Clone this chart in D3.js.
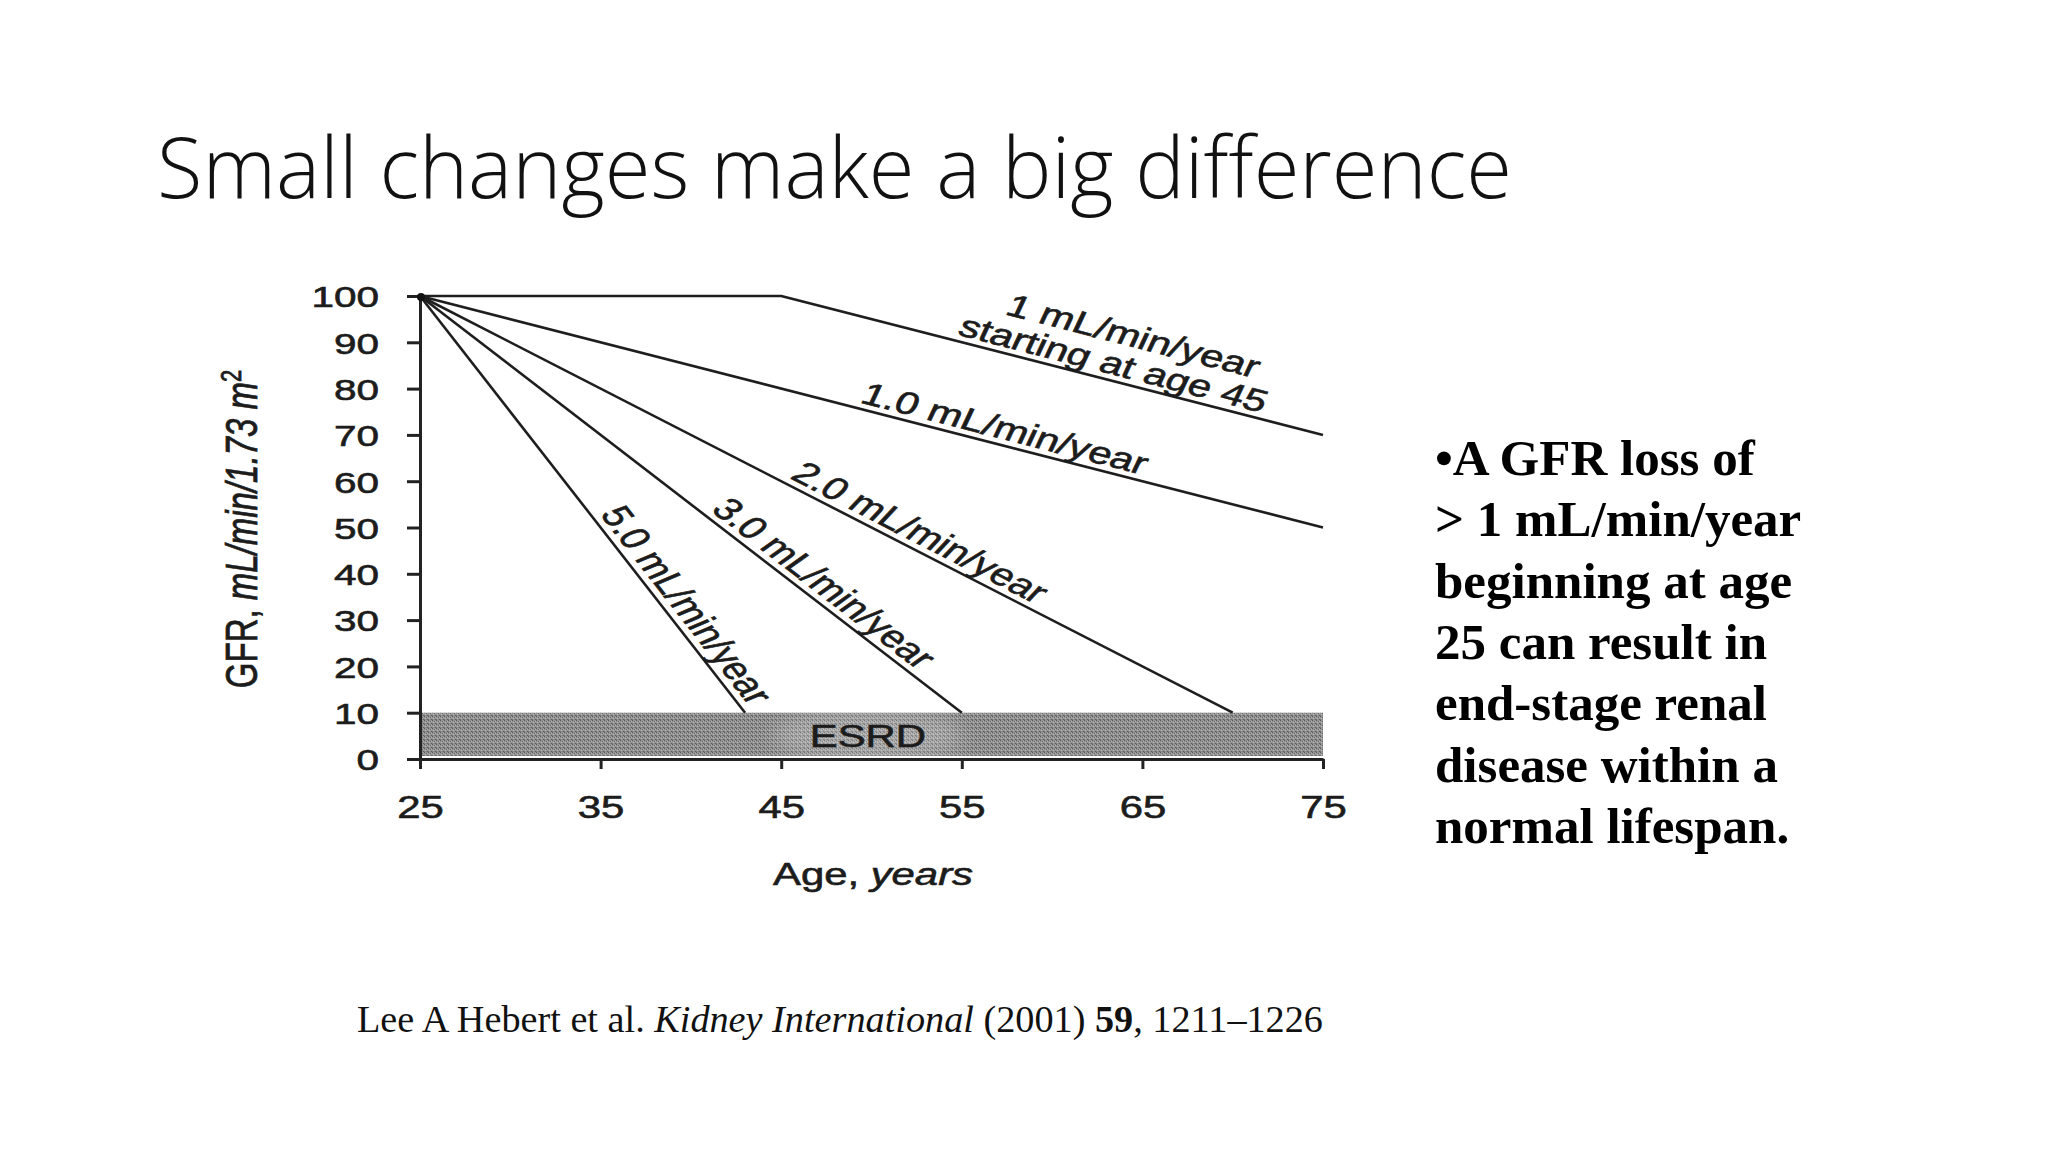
<!DOCTYPE html>
<html>
<head>
<meta charset="utf-8">
<script src="https://cdn.jsdelivr.net/npm/d3@7"></script>
<style>
  body { margin: 0; background: #fff; }
  svg { display: block; }
  .chart text { fill: #1c1c1c; stroke: #1c1c1c; stroke-width: 0.6px; font-family: "Liberation Sans", Arial, sans-serif; }
</style>
</head>
<body>
<script>
// chart values
var xTicks = [25, 35, 45, 55, 65, 75];
var yTicks = [0, 10, 20, 30, 40, 50, 60, 70, 80, 90, 100];

var seriesAges = [[25, 45, 75], [25, 75], [25, 70], [25, 55], [25, 43]];
var seriesGfr  = [[100, 100, 70], [100, 50], [100, 10], [100, 10], [100, 10]];
var seriesLabels = [
  ["1 mL/min/year", "starting at age 45"],
  ["1.0 mL/min/year"],
  ["2.0 mL/min/year"],
  ["3.0 mL/min/year"],
  ["5.0 mL/min/year"]
];
var labelAges = [63, 57, 52, 46.5, 38.7];

var esrdRange = [0, 10];
var esrdAges = [25, 75];

var bulletLines = ["\u2022A GFR loss of", "> 1 mL/min/year", "beginning at age",
  "25 can result in", "end-stage renal", "disease within a", "normal lifespan."];

var width = 2048, height = 1152;
var sx = 1.35; // the figure in the slide is stretched sideways

var svg = d3.select("body").append("svg")
    .attr("width", width)
    .attr("height", height);

svg.append("rect").attr("width", width).attr("height", height).attr("fill", "#fff");

// title
svg.append("text")
    .attr("x", 157).attr("y", 198)
    .attr("textLength", 1355)
    .attr("lengthAdjust", "spacingAndGlyphs")
    .style("font-family", "'Open Sans', 'Noto Sans', sans-serif")
    .style("font-weight", 300)
    .style("font-size", "84px")
    .style("fill", "#111")
    .text("Small changes make a big difference");

var x = d3.scaleLinear().domain([25, 75]).range([420, 1323]);
var y = d3.scaleLinear().domain([0, 100]).range([759, 296]);

var g = svg.append("g").attr("class", "chart");

// stipple pattern for the ESRD band
var defs = svg.append("defs");
var pat = defs.append("pattern")
    .attr("id", "stip").attr("width", 4).attr("height", 4)
    .attr("patternUnits", "userSpaceOnUse");
pat.append("rect").attr("width", 4).attr("height", 4).attr("fill", "#959595");
[[0, 0, "#5a5a5a"], [2, 1, "#686868"], [1, 2, "#b8b8b8"], [3, 3, "#606060"], [3, 1, "#adadad"], [0, 3, "#767676"], [2, 3, "#868686"]]
  .forEach(function(d) {
    pat.append("rect").attr("x", d[0]).attr("y", d[1]).attr("width", 1).attr("height", 1).attr("fill", d[2]);
  });
defs.append("filter").attr("id", "blur").append("feGaussianBlur").attr("stdDeviation", 10);
defs.append("clipPath").attr("id", "bandclip").append("rect")
    .attr("x", x(esrdAges[0]) + 2).attr("y", y(esrdRange[1]))
    .attr("width", x(esrdAges[1]) - x(esrdAges[0]) - 2)
    .attr("height", y(esrdRange[0]) - y(esrdRange[1]) - 3);

g.append("rect")
    .attr("x", x(esrdAges[0]) + 2)
    .attr("y", y(esrdRange[1]))
    .attr("width", x(esrdAges[1]) - x(esrdAges[0]) - 2)
    .attr("height", y(esrdRange[0]) - y(esrdRange[1]) - 3)
    .attr("fill", "url(#stip)");

// lighter halo round the ESRD word
g.append("ellipse")
    .attr("clip-path", "url(#bandclip)")
    .attr("cx", x(49.8)).attr("cy", y(5))
    .attr("rx", 95).attr("ry", 26)
    .attr("fill", "#fff").attr("opacity", 0.22)
    .attr("filter", "url(#blur)");

g.append("text")
    .attr("transform", "translate(" + x(49.8) + "," + (y(2.6)) + ") scale(" + sx + ",1)")
    .attr("text-anchor", "middle")
    .style("font-size", "31px")
    .text("ESRD");

// axes
var yAxis = g.append("g")
    .attr("transform", "translate(" + x(25) + ",0)")
    .call(d3.axisLeft(y).tickValues(yTicks).tickSize(13).tickSizeOuter(0));
yAxis.selectAll("text")
    .attr("x", null)
    .attr("dy", "0.36em")
    .attr("transform", "translate(-41,0) scale(" + sx + ",1)")
    .style("font-size", "30px");

var xAxis = g.append("g")
    .attr("transform", "translate(0," + y(0) + ")")
    .call(d3.axisBottom(x).tickValues(xTicks).tickSize(10).tickSizeOuter(0));
xAxis.selectAll("text")
    .attr("y", null)
    .attr("dy", null)
    .attr("transform", "translate(0,59) scale(" + sx + ",1)")
    .style("font-size", "31px");

g.selectAll(".domain, .tick line")
    .attr("stroke", "#222")
    .attr("stroke-width", 3);

// axis titles
var ylab = g.append("text")
    .attr("transform", "translate(257,529) scale(" + sx + ",1) rotate(-90)")
    .attr("text-anchor", "middle")
    .style("font-size", "33px");
ylab.append("tspan").text("GFR, ");
ylab.append("tspan").style("font-style", "italic").text("mL/min/1.73 m");
ylab.append("tspan").style("font-size", "22px").attr("dy", "-12").text("2");

var xlab = g.append("text")
    .attr("transform", "translate(873,885) scale(" + sx + ",1)")
    .attr("text-anchor", "middle")
    .style("font-size", "31px");
xlab.append("tspan").text("Age, ");
xlab.append("tspan").style("font-style", "italic").text("years");

// the decline lines
var line = d3.line()
    .x(function(d) { return x(d[0]); })
    .y(function(d) { return y(d[1]); });

var series = seriesAges.map(function(ages, i) {
  return ages.map(function(a, j) { return [a, seriesGfr[i][j]]; });
});

g.selectAll(".gfr")
    .data(series)
  .enter().append("path")
    .attr("class", "gfr")
    .attr("d", line)
    .attr("fill", "none")
    .attr("stroke", "#1e1e1e")
    .attr("stroke-width", 2.6)
    .attr("stroke-linejoin", "round");

g.append("circle")
    .attr("cx", x(25) + 1).attr("cy", y(100) + 1)
    .attr("r", 4).attr("fill", "#111");

// labels laid along each line
series.forEach(function(pts, i) {
  var a = labelAges[i];
  var k = 0;
  while (k < pts.length - 2 && a > pts[k + 1][0]) k++;
  var p0 = pts[k], p1 = pts[k + 1];
  var t = (a - p0[0]) / (p1[0] - p0[0]);
  var gfr = p0[1] + t * (p1[1] - p0[1]);
  var dx = x(p1[0]) - x(p0[0]), dy = y(p1[1]) - y(p0[1]);
  var ang = Math.atan2(dy, dx / sx) * 180 / Math.PI;
  var lab = g.append("text")
      .attr("transform", "translate(" + x(a) + "," + y(gfr) + ") scale(" + sx + ",1) rotate(" + ang + ")")
      .attr("text-anchor", "middle")
      .style("font-size", "31px");
  var lines = seriesLabels[i];
  lines.forEach(function(s, j) {
    lab.append("tspan")
        .attr("x", j < lines.length - 1 ? 5 : 0)
        .attr("y", -6 - (lines.length - 1 - j) * 31)
        .text(s);
  });
});

// note on the right
var note = svg.append("text")
    .style("font-family", "'Liberation Serif', 'Times New Roman', serif")
    .style("font-weight", "bold")
    .style("font-size", "51px")
    .style("fill", "#000");
bulletLines.forEach(function(s, i) {
  note.append("tspan").attr("x", 1435).attr("y", 475 + i * 61.3).text(s);
});

// citation
var cite = svg.append("text")
    .attr("x", 357).attr("y", 1032)
    .attr("textLength", 966)
    .attr("lengthAdjust", "spacingAndGlyphs")
    .style("font-family", "'Liberation Serif', 'Times New Roman', serif")
    .style("font-size", "37px")
    .style("fill", "#111");
cite.append("tspan").text("Lee A Hebert et al. ");
cite.append("tspan").style("font-style", "italic").text("Kidney International");
cite.append("tspan").text(" (2001) ");
cite.append("tspan").style("font-weight", "bold").text("59");
cite.append("tspan").text(", 1211\u20131226");
</script>
</body>
</html>
